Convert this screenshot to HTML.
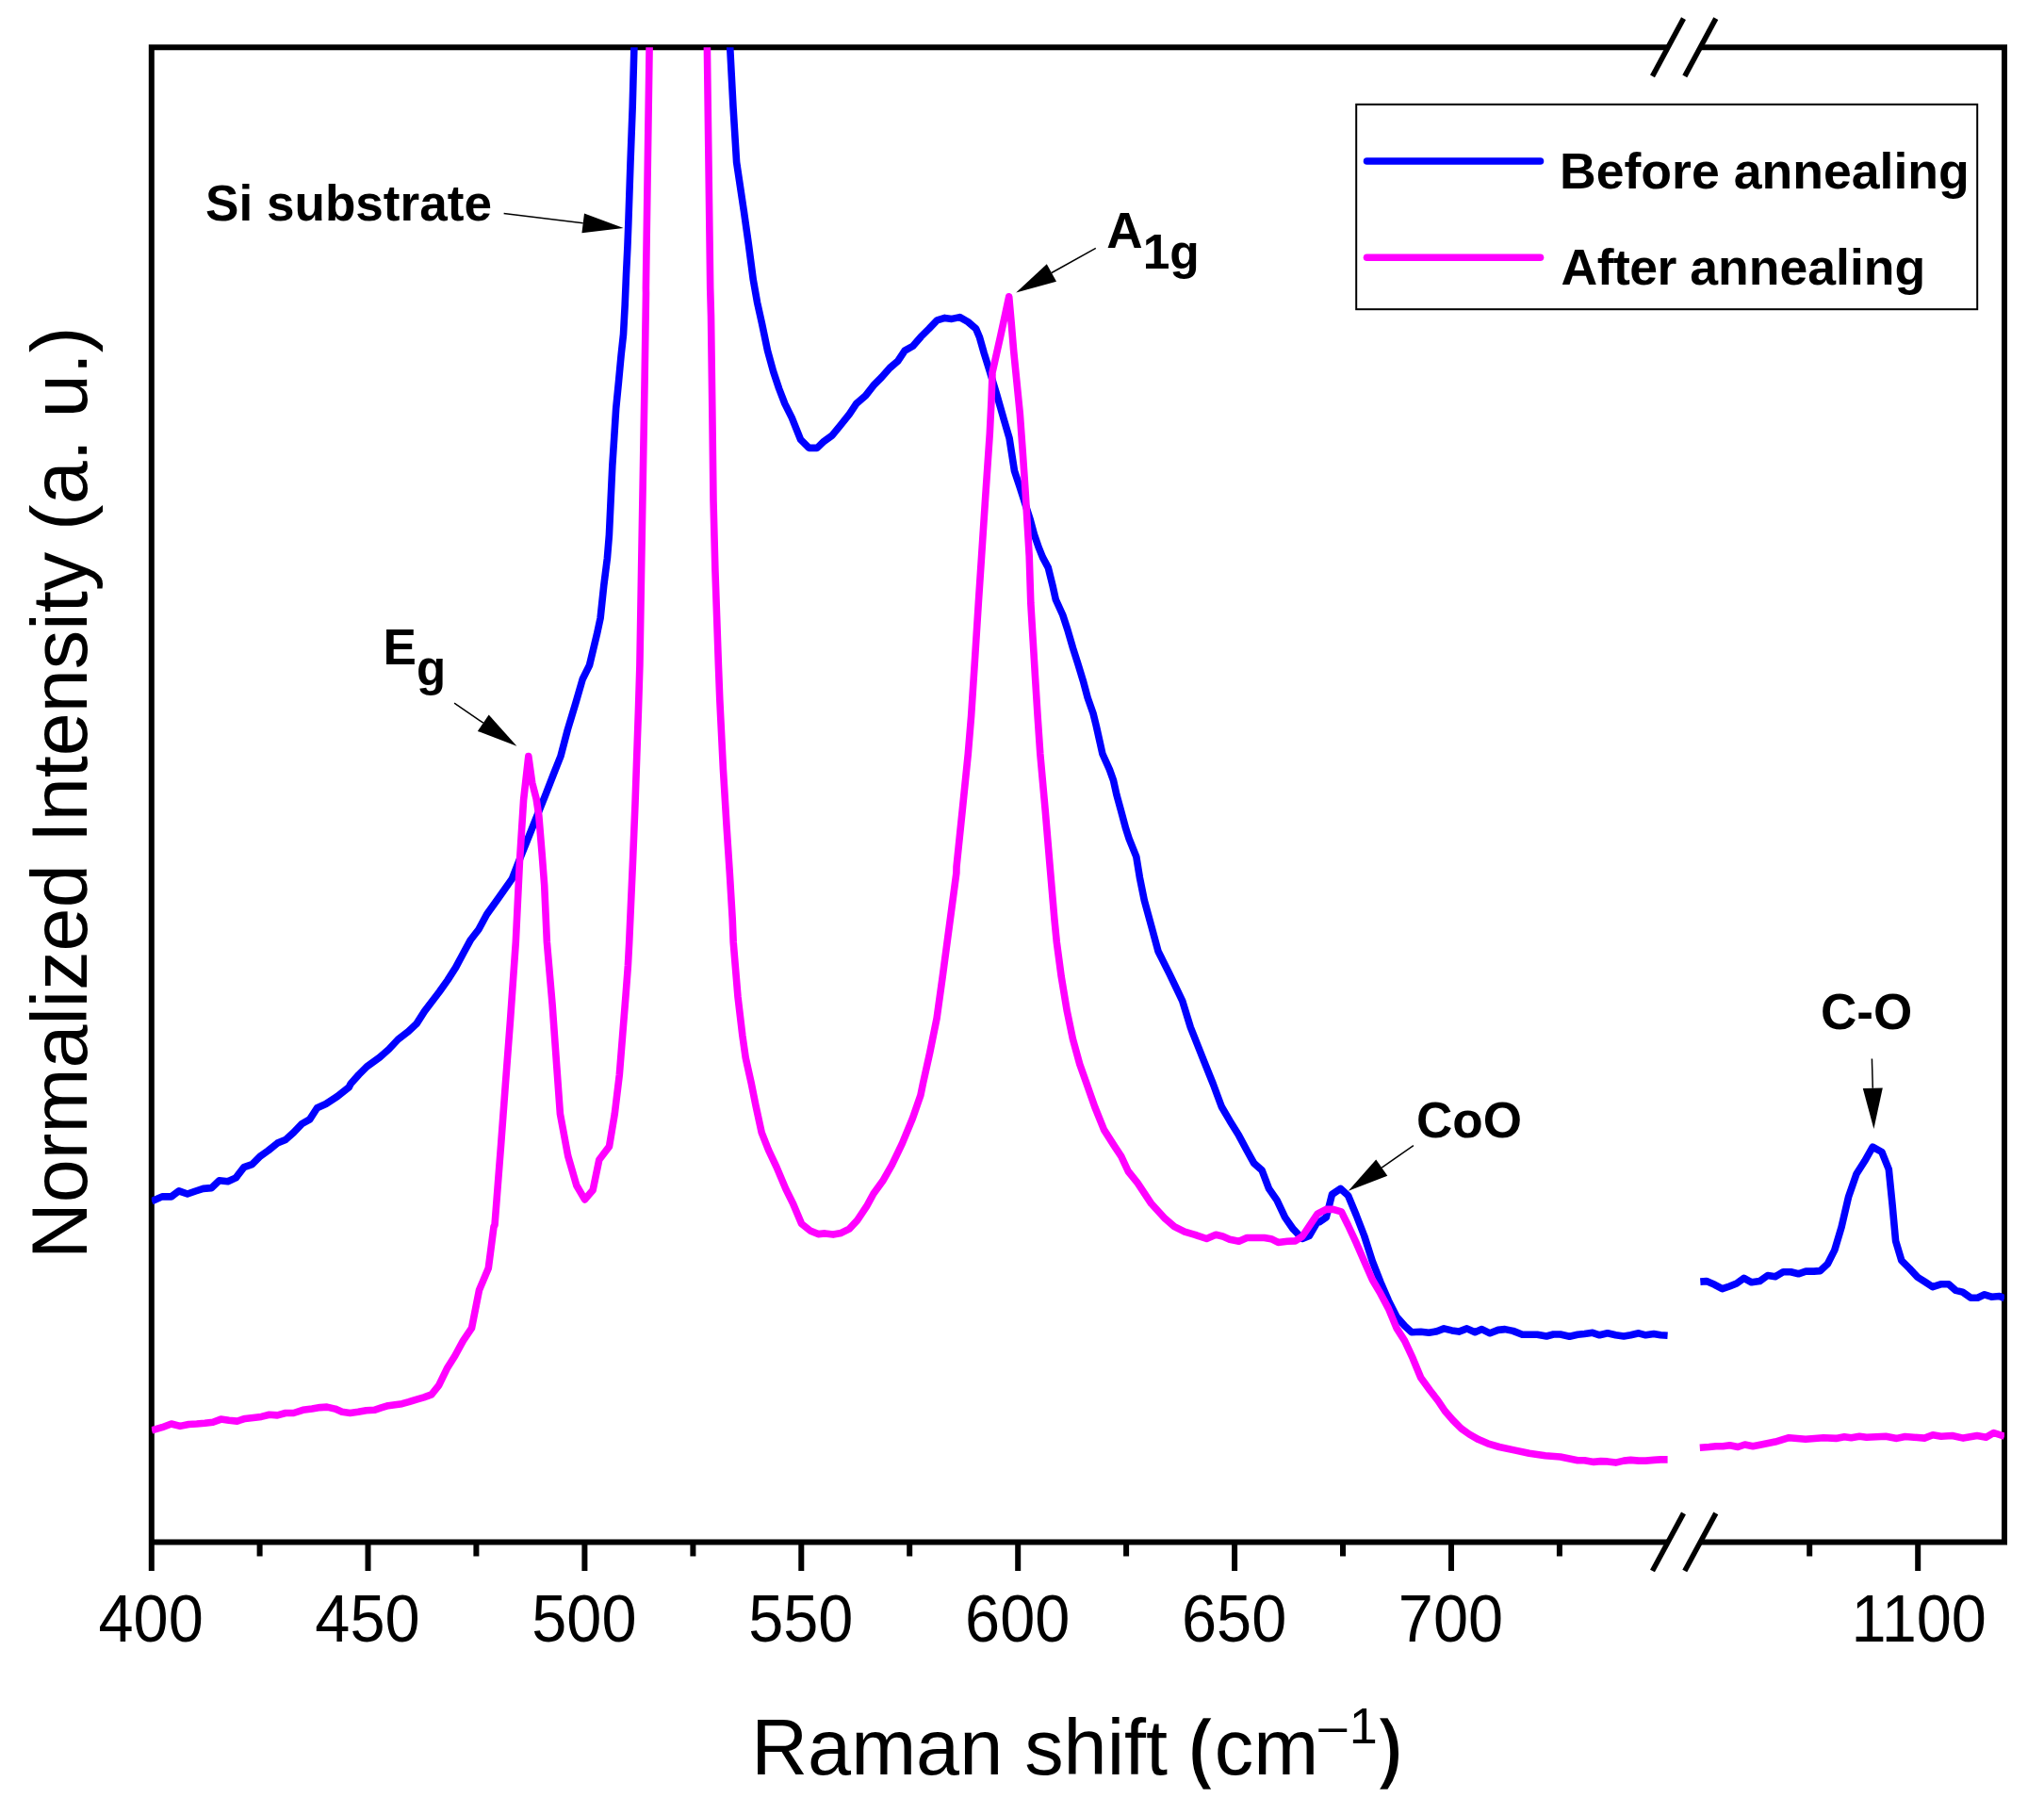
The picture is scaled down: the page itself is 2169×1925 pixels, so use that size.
<!DOCTYPE html>
<html lang="en"><head><meta charset="utf-8"><title>Raman spectra</title>
<style>html,body{margin:0;padding:0;background:#fff}svg{display:block}text{font-family:"Liberation Sans",sans-serif;fill:#000}.b{font-weight:bold;font-size:53.1px}.t{font-size:66.7px;text-anchor:middle}.ti{font-size:82.8px}</style></head><body>
<svg width="2169" height="1925" viewBox="0 0 2169 1925">
<rect width="2169" height="1925" fill="#fff"/>
<defs><clipPath id="c"><rect x="160.8" y="50.2" width="1966.2" height="1586.2"/></clipPath></defs>
<g stroke="#000" stroke-width="6.0" fill="none" stroke-linecap="butt">
<path d="M1770.0,50.2 H160.8 V1666.9 M157.8,1636.4 H1770.0 M1804.3,1636.4 H2127.0 V50.2 H1804.3" stroke-linejoin="miter"/>
<path d="M390.5,1636.4 v30.5 M620.4,1636.4 v30.5 M850.3,1636.4 v30.5 M1080.2,1636.4 v30.5 M1310.1,1636.4 v30.5 M1540.0,1636.4 v30.5 M2035.2,1636.4 v30.5 M275.6,1636.4 v15 M505.4,1636.4 v15 M735.4,1636.4 v15 M965.2,1636.4 v15 M1195.1,1636.4 v15 M1425.0,1636.4 v15 M1654.9,1636.4 v15 M1920.2,1636.4 v15"/>
<path d="M1753.5,80.8 L1786.5,19.6" stroke-width="5.6"/>
<path d="M1753.5,1667.0 L1786.5,1605.8" stroke-width="5.6"/>
<path d="M1787.8,80.8 L1820.8,19.6" stroke-width="5.6"/>
<path d="M1787.8,1667.0 L1820.8,1605.8" stroke-width="5.6"/>
</g>
<g clip-path="url(#c)" fill="none" stroke-linejoin="round" stroke-linecap="butt">
<g stroke="#0000ff" stroke-width="7.6">
<polyline points="161.0,1274.8 172.0,1269.9 181.8,1269.9 189.9,1263.8 198.9,1267.0 207.5,1264.0 215.6,1261.4 224.6,1260.6 232.7,1252.8 241.8,1253.8 250.3,1249.9 258.9,1238.6 267.5,1235.7 276.0,1227.1 284.6,1221.0 294.4,1213.1 303.0,1209.5 311.5,1201.9 320.1,1192.8 328.7,1187.9 336.5,1175.7 345.8,1171.5 358.0,1163.5 370.3,1153.7 372.2,1150.0 380.8,1140.4 389.3,1131.8 402.8,1122.1 412.6,1113.5 422.4,1103.0 433.4,1094.6 441.9,1086.6 450.5,1073.1 466.4,1052.3 475.0,1040.1 483.6,1026.6 492.1,1010.7 499.5,997.2 508.0,986.2 516.6,970.3 528.8,953.2 543.5,932.4 549.6,916.5 559.4,892.0 569.2,867.5 579.0,843.1 587.6,821.0 594.9,802.7 602.3,774.5 610.8,746.4 618.2,720.7 625.5,706.0 633.4,673.2 637.1,656.0 640.7,621.8 644.4,592.4 646.4,567.9 648.1,531.2 649.8,494.5 651.7,465.1 653.7,433.3 656.6,403.9 659.1,377.0 661.5,355.0 663.2,323.2 664.5,291.4 665.9,262.0 666.8,238.2 669.0,172.1 671.2,113.4 672.9,50.3 673.2,35.6"/>
<polyline points="774.4,35.6 774.7,50.3 778.0,113.4 781.6,172.1 789.3,223.5 794.5,260.2 799.3,296.9 803.5,320.7 808.4,342.8 814.5,372.1 820.6,394.2 826.7,412.5 832.8,428.4 840.2,443.1 845.1,455.3 849.5,466.4 858.5,475.4 867.1,475.4 874.4,468.3 883.0,462.2 891.6,451.7 901.4,439.4 908.7,428.4 918.5,419.9 927.1,408.8 935.6,400.3 944.2,390.5 952.8,383.1 960.1,372.1 968.7,367.2 977.2,357.4 985.8,348.9 994.4,339.8 1002.6,337.4 1010.0,338.4 1018.5,336.6 1027.1,341.5 1035.7,348.9 1039.3,357.4 1044.2,374.6 1050.3,394.2 1057.7,418.6 1065.0,444.3 1071.1,465.1 1076.5,499.8 1082.0,516.4 1088.0,535.1 1093.3,551.7 1097.4,567.1 1102.4,581.4 1106.4,591.4 1112.3,602.4 1117.0,621.4 1120.3,636.3 1127.8,652.8 1132.7,667.7 1138.5,687.6 1144.3,705.8 1149.3,722.3 1154.2,740.5 1160.0,757.0 1163.3,770.3 1166.6,785.1 1169.9,800.0 1177.4,816.6 1181.5,828.1 1184.8,843.0 1189.8,861.2 1194.7,879.4 1198.1,890.0 1205.8,909.1 1209.4,931.2 1214.3,955.6 1221.7,982.6 1229.0,1009.5 1241.2,1033.9 1254.7,1062.1 1263.3,1090.2 1277.9,1126.9 1287.2,1150.0 1296.3,1174.5 1304.9,1189.2 1314.7,1205.1 1323.2,1221.0 1330.6,1234.4 1339.1,1241.8 1346.5,1261.4 1355.0,1273.6 1363.6,1291.9 1372.2,1304.2 1382.0,1314.5 1389.3,1311.5 1397.9,1296.8 1400.0,1296.8 1407.3,1291.9 1413.5,1267.5 1422.5,1261.4 1430.6,1268.7 1439.2,1289.5 1447.7,1311.5 1456.3,1338.4 1464.9,1360.5 1473.4,1380.1 1482.0,1397.2 1490.6,1407.0 1497.9,1413.8 1507.7,1413.3 1516.3,1414.3 1523.6,1413.1 1532.2,1409.9 1540.7,1411.9 1548.1,1413.1 1556.6,1409.9 1565.2,1413.8 1572.5,1410.6 1581.1,1414.8 1589.7,1411.4 1597.0,1410.6 1605.6,1412.4 1615.4,1416.3 1622.7,1416.3 1631.3,1416.3 1641.1,1418.0 1648.4,1416.0 1655.8,1416.0 1665.5,1418.2 1674.1,1416.3 1681.4,1415.5 1690.0,1414.3 1697.4,1416.8 1705.9,1414.8 1714.5,1416.8 1723.1,1418.0 1730.4,1416.8 1739.0,1414.8 1746.3,1416.8 1754.9,1415.5 1762.2,1416.8 1769.6,1417.3"/>
<polyline points="1804.3,1360.1 1810.9,1359.6 1819.5,1363.3 1827.6,1367.7 1835.4,1365.0 1842.8,1362.0 1850.6,1356.4 1858.7,1360.8 1867.2,1359.6 1875.8,1353.5 1883.9,1354.7 1892.2,1349.8 1900.3,1349.8 1908.4,1351.8 1916.2,1349.1 1924.8,1349.1 1931.6,1348.6 1939.4,1341.2 1946.8,1326.6 1954.1,1302.1 1961.5,1270.3 1970.0,1245.8 1978.6,1232.3 1987.2,1217.2 1996.9,1222.5 2004.3,1240.9 2008.0,1277.6 2011.6,1316.8 2017.8,1337.6 2026.3,1346.1 2034.9,1355.4 2043.4,1360.8 2050.8,1365.7 2059.4,1362.8 2067.9,1362.8 2075.3,1369.4 2082.6,1371.1 2091.2,1377.2 2098.5,1377.2 2105.9,1373.8 2113.2,1376.2 2121.8,1375.5 2127.1,1377.9"/>
</g>
<g stroke="#ff00ff" stroke-width="7.6">
<polyline points="161.0,1517.8 172.0,1514.7 181.8,1511.0 191.1,1513.4 200.2,1511.5 208.7,1511.0 217.3,1510.3 225.9,1509.3 234.4,1506.1 243.0,1507.3 251.6,1508.1 260.1,1505.4 268.7,1504.4 277.3,1503.4 285.8,1501.2 294.4,1501.9 303.0,1499.5 311.5,1499.5 321.3,1496.3 331.1,1495.1 339.7,1493.6 347.0,1493.1 355.6,1495.1 362.9,1498.3 371.5,1499.5 380.1,1498.3 388.6,1496.8 397.2,1496.3 404.5,1493.9 411.9,1491.7 419.2,1490.7 426.6,1489.7 433.9,1487.7 441.2,1485.3 449.8,1482.8 457.9,1479.9 465.7,1470.1 474.3,1452.3 482.8,1438.8 491.4,1422.9 500.5,1409.4 508.5,1369.0 518.3,1345.8 524.0,1301.7 525.0,1300.0 531.6,1215.0 536.5,1148.8 541.5,1082.7 547.3,1000.0 551.4,915.0 555.6,848.8 560.8,802.6 564.7,830.6 569.0,847.2 571.8,865.4 575.2,906.7 577.7,939.8 580.4,1000.0 586.1,1066.0 590.8,1132.0 594.4,1182.0 602.7,1226.6 611.8,1258.0 620.5,1272.9 629.1,1263.0 635.8,1230.7 646.5,1216.6 652.3,1181.9 657.3,1140.6 660.6,1099.2 663.9,1057.9 666.4,1024.8 667.7,1000.0 671.5,914.0 674.0,852.8 675.7,803.9 677.4,754.9 678.9,706.0 680.6,604.6 682.3,506.7 684.0,408.8 685.5,310.9 685.4,306.0 689.1,50.3 689.2,35.6"/>
<polyline points="750.4,35.6 750.4,50.3 753.7,306.0 754.5,335.4 755.8,433.3 757.0,531.2 758.9,604.6 760.6,653.6 762.4,706.0 763.8,742.7 767.4,816.1 771.1,877.3 774.3,926.3 777.2,975.0 778.2,1000.0 783.0,1057.9 787.9,1099.2 791.2,1122.4 797.2,1149.3 802.1,1173.8 808.2,1201.9 815.5,1220.3 824.1,1238.6 833.9,1261.9 841.2,1276.6 850.5,1298.6 859.6,1305.9 868.2,1309.6 875.5,1308.9 884.1,1310.1 892.6,1308.4 901.2,1304.2 909.8,1294.9 919.6,1280.2 926.9,1266.8 936.7,1253.3 946.5,1236.2 957.3,1213.6 968.4,1186.7 976.9,1162.2 979.4,1150.0 986.7,1117.2 994.1,1080.4 1000.2,1036.4 1005.1,999.7 1010.0,963.0 1014.9,926.3 1015.0,920.0 1021.2,860.0 1027.3,800.0 1030.6,760.0 1034.5,700.0 1038.3,640.0 1041.6,590.0 1046.2,520.0 1050.3,460.0 1052.0,425.0 1053.0,397.5 1052.9,395.8 1061.8,356.1 1070.7,314.8 1073.2,342.9 1075.7,372.7 1079.0,405.8 1082.3,438.8 1085.3,480.2 1088.1,521.5 1090.6,562.9 1092.2,590.0 1093.8,640.0 1096.2,680.0 1098.6,720.0 1101.1,760.0 1103.8,800.0 1109.2,860.0 1114.2,920.0 1118.9,975.2 1121.3,999.7 1126.2,1036.4 1132.3,1073.1 1138.4,1102.5 1145.8,1129.4 1153.1,1150.0 1161.7,1174.5 1171.5,1198.9 1182.5,1216.1 1189.8,1227.1 1197.2,1243.0 1207.0,1255.2 1221.7,1277.3 1236.3,1293.2 1246.1,1301.7 1257.1,1307.1 1268.2,1310.3 1280.4,1314.5 1290.2,1310.3 1297.5,1312.0 1304.9,1315.2 1314.7,1317.2 1323.2,1313.5 1331.8,1313.5 1341.6,1313.5 1348.9,1314.7 1356.3,1318.4 1366.1,1317.2 1374.6,1316.9 1382.0,1312.0 1390.5,1299.3 1397.9,1288.3 1400.0,1287.1 1407.3,1283.4 1414.7,1283.4 1423.3,1285.8 1430.6,1300.5 1439.2,1318.9 1447.7,1338.4 1456.3,1358.0 1464.9,1372.7 1473.4,1388.6 1482.0,1409.4 1490.6,1422.9 1499.1,1441.2 1507.7,1462.0 1517.5,1475.5 1526.0,1486.5 1533.4,1497.5 1541.9,1507.3 1550.5,1515.9 1559.1,1522.0 1568.9,1527.6 1578.7,1531.8 1590.9,1535.5 1608.0,1539.1 1622.7,1542.3 1639.8,1544.8 1655.8,1546.0 1674.1,1549.7 1681.4,1549.7 1691.2,1551.4 1698.6,1550.6 1705.9,1550.9 1714.5,1552.1 1723.1,1550.1 1730.4,1549.4 1739.0,1550.1 1746.3,1550.1 1754.9,1549.4 1762.2,1548.9 1769.6,1548.9"/>
<polyline points="1803.8,1536.2 1813.6,1535.5 1820.9,1534.7 1828.3,1534.7 1835.6,1533.7 1844.2,1535.5 1851.5,1533.0 1860.1,1534.7 1869.0,1533.0 1883.7,1530.1 1898.4,1525.7 1916.0,1527.2 1935.1,1525.7 1948.3,1526.4 1957.1,1524.7 1964.4,1525.7 1973.2,1524.2 1980.6,1525.2 2001.1,1524.2 2012.8,1526.4 2021.6,1524.5 2042.2,1526.1 2051.0,1522.8 2059.8,1524.2 2071.6,1523.5 2083.3,1526.1 2098.0,1523.5 2107.5,1525.2 2115.6,1520.5 2127.0,1524.2"/>
</g></g>
<text class="t" transform="translate(160.1,1741.8) scale(1,1.055)">400</text>
<text class="t" transform="translate(390.0,1741.8) scale(1,1.055)">450</text>
<text class="t" transform="translate(619.9,1741.8) scale(1,1.055)">500</text>
<text class="t" transform="translate(849.8,1741.8) scale(1,1.055)">550</text>
<text class="t" transform="translate(1079.7,1741.8) scale(1,1.055)">600</text>
<text class="t" transform="translate(1309.6,1741.8) scale(1,1.055)">650</text>
<text class="t" transform="translate(1539.5,1741.8) scale(1,1.055)">700</text>
<text class="t" transform="translate(2036.2,1741.8) scale(1,1.055)">1100</text>
<text class="ti" x="797.3" y="1882.8">Raman shift <tspan font-weight="bold" stroke="#fff" stroke-width="2.4" dx="-2">(</tspan><tspan dx="1.2">cm</tspan><tspan font-size="54" dy="-33">–<tspan dx="2.5">1</tspan></tspan><tspan font-weight="bold" stroke="#fff" stroke-width="2.4" dy="33">)</tspan></text>
<text class="ti" transform="translate(92.3,1336) rotate(-90)">Normalized Intensity (a. u.)</text>
<rect x="1439.2" y="110.8" width="659" height="217.4" fill="#fff" stroke="#000" stroke-width="2"/>
<path d="M1450.5,171 H1634.5" stroke="#0000ff" stroke-width="7.6" stroke-linecap="round"/>
<path d="M1450.5,273.3 H1634.5" stroke="#ff00ff" stroke-width="7.6" stroke-linecap="round"/>
<text class="b" style="font-size:53.6px" x="1655" y="200">Before annealing</text>
<text class="b" style="font-size:53.6px" x="1656.5" y="301.6"><tspan letter-spacing="-0.55">After </tspan>annealing</text>
<text class="b" x="218" y="234.3">Si substrate</text>
<text class="b" x="406.5" y="705.2">E<tspan dy="21.5" font-size="51">g</tspan></text>
<text class="b" x="1174.3" y="263">A<tspan dy="22.3" font-size="51.5">1g</tspan></text>
<text class="b" x="1503" y="1207.4">CoO</text>
<text class="b" x="1932" y="1092">C-O</text>
<path d="M534.6,226.5 L618.7,236.8" stroke="#000" stroke-width="1.5" fill="none"/>
<path d="M661.6,242.0 L617.4,247.2 L620.0,226.4 Z" fill="#000"/>
<path d="M482.1,746.2 L512.8,767.2" stroke="#000" stroke-width="1.5" fill="none"/>
<path d="M548.4,791.7 L506.8,775.9 L518.7,758.6 Z" fill="#000"/>
<path d="M1162.8,263.4 L1115.9,289.5" stroke="#000" stroke-width="1.5" fill="none"/>
<path d="M1078.2,310.5 L1110.8,280.3 L1121.0,298.7 Z" fill="#000"/>
<path d="M1499.9,1215.6 L1466.2,1239.1" stroke="#000" stroke-width="1.5" fill="none"/>
<path d="M1430.8,1263.8 L1460.2,1230.5 L1472.3,1247.7 Z" fill="#000"/>
<path d="M1986.4,1123.4 L1987.3,1154.8" stroke="#000" stroke-width="1.5" fill="none"/>
<path d="M1988.4,1198.0 L1976.8,1155.1 L1997.8,1154.5 Z" fill="#000"/>
</svg></body></html>
